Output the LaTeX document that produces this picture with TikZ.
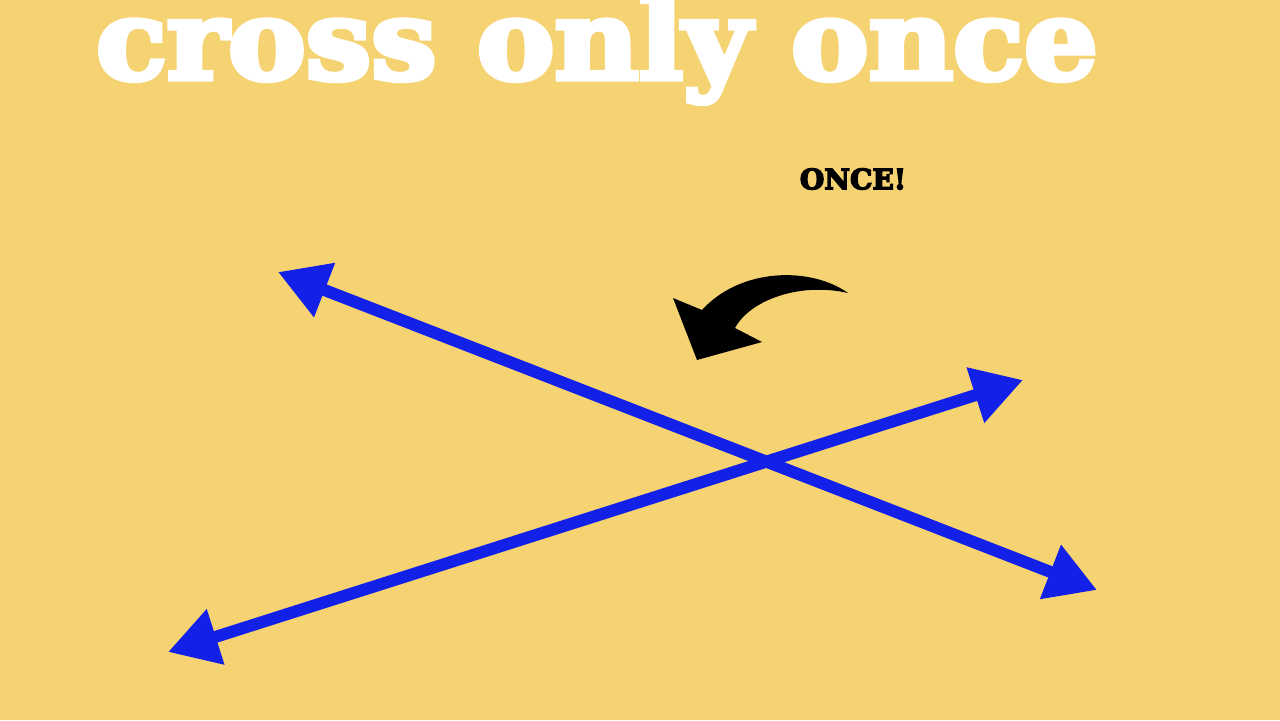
\documentclass[tikz,border=0pt]{standalone}
\usepackage{fontspec}
\setmainfont{DejaVu Serif}
\usetikzlibrary{arrows.meta}
\definecolor{bgyellow}{RGB}{245,211,114}
\definecolor{lineblue}{RGB}{18,32,232}
% heavier glyphs: fill and stroke the outlines
\newcommand{\fatglyphs}[2]{\special{pdf:literal 2 Tr #1 w}#2\special{pdf:literal 0 Tr}}
\tikzset{
  blueline/.style={draw=lineblue, line width=0.24cm,
    {Triangle[length=1.0cm,width=1.1cm]}-{Triangle[length=1.0cm,width=1.1cm]}},
  titletext/.style={text=white, inner sep=0pt, anchor=base,
    font=\bfseries\fontsize{63}{63}\selectfont},
  shouttext/.style={text=black, inner sep=0pt,
    font=\bfseries\fontsize{16}{16}\selectfont},
}
\begin{document}
\begin{tikzpicture}[x=0.02cm,y=-0.02cm]
% Background
\fill[bgyellow] (0,0) rectangle (1280,720);
\useasboundingbox (0,0) rectangle (1280,720);
\clip (0,0) rectangle (1280,720);

% Title
\node (title) [titletext, xscale=1.05] at (597,79) {\fatglyphs{3}{cross only once}};

% Label
\node (once) [shouttext] at (853,179) {\fatglyphs{0.8}{ONCE!}};

% Line end points
\coordinate (aleft)  at (278,272);
\coordinate (aright) at (1097,590);
\coordinate (bleft)  at (168,652);
\coordinate (bright) at (1023,380);

% Drawing the two lines
\draw [blueline] (aleft) -- (aright);
\draw [blueline] (bleft) -- (bright);

% Curved arrow pointing at the crossing
\fill [black] (848,293)
  .. controls (810,266) and (740,268) .. (702,310)
  -- (673,298) -- (697,360) -- (762,342) -- (735,328)
  .. controls (750,300) and (800,282) .. (848,293) -- cycle;
\end{tikzpicture}
\end{document}
